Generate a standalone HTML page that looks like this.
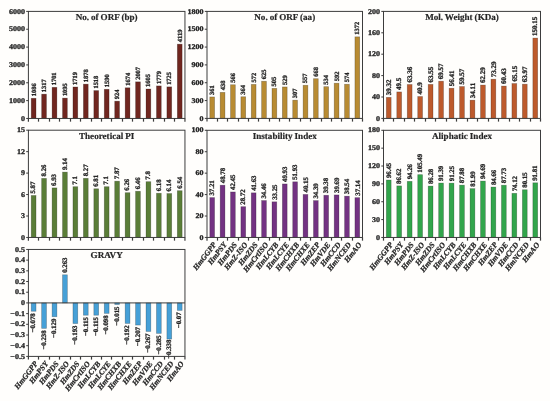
<!DOCTYPE html>
<html><head><meta charset="utf-8"><style>
html,body{margin:0;padding:0;background:#fffefc;}
svg{display:block;will-change:transform;filter:blur(0.3px);}
text{font-family:"Liberation Serif",serif;font-weight:bold;text-rendering:geometricPrecision;fill:#262626;}
.t{font-size:7.2px;text-anchor:end;stroke:#262626;stroke-width:0.3px;}
.v{font-size:6.8px;stroke:#262626;stroke-width:0.3px;}
.ti{font-size:9.1px;text-anchor:middle;word-spacing:-0.3px;stroke:#262626;stroke-width:0.18px;}
.c{font-size:7.8px;font-style:italic;text-anchor:end;stroke:#262626;stroke-width:0.25px;}
</style></head><body>
<svg width="550" height="401" viewBox="0 0 550 401">
<rect width="550" height="401" fill="#fffefc"/>
<rect x="31.22" y="98.27" width="4.80" height="20.18" fill="#70261f" stroke="rgba(0,0,0,0.3)" stroke-width="0.7"/>
<text class="v" style="font-size:6.45px" transform="translate(35.62,96.27) rotate(-90)">1086</text>
<rect x="41.65" y="94.15" width="4.80" height="24.30" fill="#70261f" stroke="rgba(0,0,0,0.3)" stroke-width="0.7"/>
<text class="v" style="font-size:6.45px" transform="translate(46.05,92.15) rotate(-90)">1317</text>
<rect x="52.09" y="87.30" width="4.80" height="31.15" fill="#70261f" stroke="rgba(0,0,0,0.3)" stroke-width="0.7"/>
<text class="v" style="font-size:6.45px" transform="translate(56.49,85.30) rotate(-90)">1701</text>
<rect x="62.53" y="98.11" width="4.80" height="20.34" fill="#70261f" stroke="rgba(0,0,0,0.3)" stroke-width="0.7"/>
<text class="v" style="font-size:6.45px" transform="translate(66.93,96.11) rotate(-90)">1095</text>
<rect x="72.96" y="86.98" width="4.80" height="31.47" fill="#70261f" stroke="rgba(0,0,0,0.3)" stroke-width="0.7"/>
<text class="v" style="font-size:6.45px" transform="translate(77.36,84.98) rotate(-90)">1719</text>
<rect x="83.40" y="84.14" width="4.80" height="34.31" fill="#70261f" stroke="rgba(0,0,0,0.3)" stroke-width="0.7"/>
<text class="v" style="font-size:6.45px" transform="translate(87.80,82.14) rotate(-90)">1878</text>
<rect x="93.84" y="90.57" width="4.80" height="27.88" fill="#70261f" stroke="rgba(0,0,0,0.3)" stroke-width="0.7"/>
<text class="v" style="font-size:6.45px" transform="translate(98.24,88.57) rotate(-90)">1518</text>
<rect x="104.27" y="89.28" width="4.80" height="29.17" fill="#70261f" stroke="rgba(0,0,0,0.3)" stroke-width="0.7"/>
<text class="v" style="font-size:6.45px" transform="translate(108.67,87.28) rotate(-90)">1590</text>
<rect x="114.71" y="101.16" width="4.80" height="17.29" fill="#70261f" stroke="rgba(0,0,0,0.3)" stroke-width="0.7"/>
<text class="v" style="font-size:6.45px" transform="translate(119.11,99.16) rotate(-90)">924</text>
<rect x="125.15" y="87.78" width="4.80" height="30.67" fill="#70261f" stroke="rgba(0,0,0,0.3)" stroke-width="0.7"/>
<text class="v" style="font-size:6.45px" transform="translate(129.55,85.78) rotate(-90)">1674</text>
<rect x="135.58" y="81.84" width="4.80" height="36.61" fill="#70261f" stroke="rgba(0,0,0,0.3)" stroke-width="0.7"/>
<text class="v" style="font-size:6.45px" transform="translate(139.98,79.84) rotate(-90)">2007</text>
<rect x="146.02" y="89.01" width="4.80" height="29.44" fill="#70261f" stroke="rgba(0,0,0,0.3)" stroke-width="0.7"/>
<text class="v" style="font-size:6.45px" transform="translate(150.42,87.01) rotate(-90)">1605</text>
<rect x="156.46" y="85.91" width="4.80" height="32.54" fill="#70261f" stroke="rgba(0,0,0,0.3)" stroke-width="0.7"/>
<text class="v" style="font-size:6.45px" transform="translate(160.86,83.91) rotate(-90)">1779</text>
<rect x="166.89" y="86.87" width="4.80" height="31.58" fill="#70261f" stroke="rgba(0,0,0,0.3)" stroke-width="0.7"/>
<text class="v" style="font-size:6.45px" transform="translate(171.29,84.87) rotate(-90)">1725</text>
<rect x="177.33" y="44.16" width="4.80" height="74.29" fill="#70261f" stroke="rgba(0,0,0,0.3)" stroke-width="0.7"/>
<text class="v" style="font-size:6.45px" transform="translate(181.73,42.16) rotate(-90)">4119</text>
<rect x="28.40" y="11.40" width="156.55" height="107.05" fill="none" stroke="#3c3c3c" stroke-width="1.0"/>
<line x1="26.20" y1="118.45" x2="28.40" y2="118.45" stroke="#3c3c3c" stroke-width="1.0"/>
<text class="t" transform="translate(25.00,120.55) scale(1.12,1)">0</text>
<line x1="26.20" y1="100.61" x2="28.40" y2="100.61" stroke="#3c3c3c" stroke-width="1.0"/>
<text class="t" transform="translate(25.00,102.71) scale(1.12,1)">1000</text>
<line x1="26.20" y1="82.77" x2="28.40" y2="82.77" stroke="#3c3c3c" stroke-width="1.0"/>
<text class="t" transform="translate(25.00,84.87) scale(1.12,1)">2000</text>
<line x1="26.20" y1="64.93" x2="28.40" y2="64.93" stroke="#3c3c3c" stroke-width="1.0"/>
<text class="t" transform="translate(25.00,67.03) scale(1.12,1)">3000</text>
<line x1="26.20" y1="47.08" x2="28.40" y2="47.08" stroke="#3c3c3c" stroke-width="1.0"/>
<text class="t" transform="translate(25.00,49.18) scale(1.12,1)">4000</text>
<line x1="26.20" y1="29.24" x2="28.40" y2="29.24" stroke="#3c3c3c" stroke-width="1.0"/>
<text class="t" transform="translate(25.00,31.34) scale(1.12,1)">5000</text>
<line x1="26.20" y1="11.40" x2="28.40" y2="11.40" stroke="#3c3c3c" stroke-width="1.0"/>
<text class="t" transform="translate(25.00,13.50) scale(1.12,1)">6000</text>
<line x1="28.40" y1="118.45" x2="28.40" y2="121.65" stroke="#3c3c3c" stroke-width="1.2"/>
<line x1="38.50" y1="118.45" x2="38.50" y2="121.65" stroke="#3c3c3c" stroke-width="1.2"/>
<line x1="49.50" y1="118.45" x2="49.50" y2="121.65" stroke="#3c3c3c" stroke-width="1.2"/>
<line x1="59.50" y1="118.45" x2="59.50" y2="121.65" stroke="#3c3c3c" stroke-width="1.2"/>
<line x1="70.50" y1="118.45" x2="70.50" y2="121.65" stroke="#3c3c3c" stroke-width="1.2"/>
<line x1="80.50" y1="118.45" x2="80.50" y2="121.65" stroke="#3c3c3c" stroke-width="1.2"/>
<line x1="91.50" y1="118.45" x2="91.50" y2="121.65" stroke="#3c3c3c" stroke-width="1.2"/>
<line x1="101.50" y1="118.45" x2="101.50" y2="121.65" stroke="#3c3c3c" stroke-width="1.2"/>
<line x1="111.50" y1="118.45" x2="111.50" y2="121.65" stroke="#3c3c3c" stroke-width="1.2"/>
<line x1="122.50" y1="118.45" x2="122.50" y2="121.65" stroke="#3c3c3c" stroke-width="1.2"/>
<line x1="132.50" y1="118.45" x2="132.50" y2="121.65" stroke="#3c3c3c" stroke-width="1.2"/>
<line x1="143.50" y1="118.45" x2="143.50" y2="121.65" stroke="#3c3c3c" stroke-width="1.2"/>
<line x1="153.50" y1="118.45" x2="153.50" y2="121.65" stroke="#3c3c3c" stroke-width="1.2"/>
<line x1="164.50" y1="118.45" x2="164.50" y2="121.65" stroke="#3c3c3c" stroke-width="1.2"/>
<line x1="174.50" y1="118.45" x2="174.50" y2="121.65" stroke="#3c3c3c" stroke-width="1.2"/>
<line x1="184.95" y1="118.45" x2="184.95" y2="121.65" stroke="#3c3c3c" stroke-width="1.2"/>
<text class="ti" x="106.67" y="20.25">No. of ORF (bp)</text>
<rect x="209.80" y="96.94" width="4.77" height="21.46" fill="#b88b32" stroke="rgba(0,0,0,0.3)" stroke-width="0.7"/>
<text class="v" style="font-size:6.5px" transform="translate(214.18,94.94) rotate(-90)">361</text>
<rect x="220.17" y="92.36" width="4.77" height="26.04" fill="#b88b32" stroke="rgba(0,0,0,0.3)" stroke-width="0.7"/>
<text class="v" style="font-size:6.5px" transform="translate(224.55,90.36) rotate(-90)">438</text>
<rect x="230.53" y="84.75" width="4.77" height="33.65" fill="#b88b32" stroke="rgba(0,0,0,0.3)" stroke-width="0.7"/>
<text class="v" style="font-size:6.5px" transform="translate(234.92,82.75) rotate(-90)">566</text>
<rect x="240.90" y="96.76" width="4.77" height="21.64" fill="#b88b32" stroke="rgba(0,0,0,0.3)" stroke-width="0.7"/>
<text class="v" style="font-size:6.5px" transform="translate(245.28,94.76) rotate(-90)">364</text>
<rect x="251.27" y="84.40" width="4.77" height="34.00" fill="#b88b32" stroke="rgba(0,0,0,0.3)" stroke-width="0.7"/>
<text class="v" style="font-size:6.5px" transform="translate(255.65,82.40) rotate(-90)">572</text>
<rect x="261.63" y="81.25" width="4.77" height="37.15" fill="#b88b32" stroke="rgba(0,0,0,0.3)" stroke-width="0.7"/>
<text class="v" style="font-size:6.5px" transform="translate(266.02,79.25) rotate(-90)">625</text>
<rect x="272.00" y="88.38" width="4.77" height="30.02" fill="#b88b32" stroke="rgba(0,0,0,0.3)" stroke-width="0.7"/>
<text class="v" style="font-size:6.5px" transform="translate(276.38,86.38) rotate(-90)">505</text>
<rect x="282.37" y="86.95" width="4.77" height="31.45" fill="#b88b32" stroke="rgba(0,0,0,0.3)" stroke-width="0.7"/>
<text class="v" style="font-size:6.5px" transform="translate(286.75,84.95) rotate(-90)">529</text>
<rect x="292.73" y="100.15" width="4.77" height="18.25" fill="#b88b32" stroke="rgba(0,0,0,0.3)" stroke-width="0.7"/>
<text class="v" style="font-size:6.5px" transform="translate(297.12,98.15) rotate(-90)">307</text>
<rect x="303.10" y="85.29" width="4.77" height="33.11" fill="#b88b32" stroke="rgba(0,0,0,0.3)" stroke-width="0.7"/>
<text class="v" style="font-size:6.5px" transform="translate(307.48,83.29) rotate(-90)">557</text>
<rect x="313.47" y="78.69" width="4.77" height="39.71" fill="#b88b32" stroke="rgba(0,0,0,0.3)" stroke-width="0.7"/>
<text class="v" style="font-size:6.5px" transform="translate(317.85,76.69) rotate(-90)">668</text>
<rect x="323.83" y="86.66" width="4.77" height="31.74" fill="#b88b32" stroke="rgba(0,0,0,0.3)" stroke-width="0.7"/>
<text class="v" style="font-size:6.5px" transform="translate(328.22,84.66) rotate(-90)">534</text>
<rect x="334.20" y="83.21" width="4.77" height="35.19" fill="#b88b32" stroke="rgba(0,0,0,0.3)" stroke-width="0.7"/>
<text class="v" style="font-size:6.5px" transform="translate(338.58,81.21) rotate(-90)">592</text>
<rect x="344.57" y="84.28" width="4.77" height="34.12" fill="#b88b32" stroke="rgba(0,0,0,0.3)" stroke-width="0.7"/>
<text class="v" style="font-size:6.5px" transform="translate(348.95,82.28) rotate(-90)">574</text>
<rect x="354.93" y="36.84" width="4.77" height="81.56" fill="#b88b32" stroke="rgba(0,0,0,0.3)" stroke-width="0.7"/>
<text class="v" style="font-size:6.5px" transform="translate(359.32,34.84) rotate(-90)">1372</text>
<rect x="207.00" y="11.40" width="155.50" height="107.00" fill="none" stroke="#3c3c3c" stroke-width="1.0"/>
<line x1="204.80" y1="118.40" x2="207.00" y2="118.40" stroke="#3c3c3c" stroke-width="1.0"/>
<text class="t" transform="translate(203.60,120.50) scale(1.12,1)">0</text>
<line x1="204.80" y1="100.57" x2="207.00" y2="100.57" stroke="#3c3c3c" stroke-width="1.0"/>
<text class="t" transform="translate(203.60,102.67) scale(1.12,1)">300</text>
<line x1="204.80" y1="82.73" x2="207.00" y2="82.73" stroke="#3c3c3c" stroke-width="1.0"/>
<text class="t" transform="translate(203.60,84.83) scale(1.12,1)">600</text>
<line x1="204.80" y1="64.90" x2="207.00" y2="64.90" stroke="#3c3c3c" stroke-width="1.0"/>
<text class="t" transform="translate(203.60,67.00) scale(1.12,1)">900</text>
<line x1="204.80" y1="47.07" x2="207.00" y2="47.07" stroke="#3c3c3c" stroke-width="1.0"/>
<text class="t" transform="translate(203.60,49.17) scale(1.12,1)">1200</text>
<line x1="204.80" y1="29.23" x2="207.00" y2="29.23" stroke="#3c3c3c" stroke-width="1.0"/>
<text class="t" transform="translate(203.60,31.33) scale(1.12,1)">1500</text>
<line x1="204.80" y1="11.40" x2="207.00" y2="11.40" stroke="#3c3c3c" stroke-width="1.0"/>
<text class="t" transform="translate(203.60,13.50) scale(1.12,1)">1800</text>
<line x1="207.00" y1="118.40" x2="207.00" y2="121.60" stroke="#3c3c3c" stroke-width="1.2"/>
<line x1="217.50" y1="118.40" x2="217.50" y2="121.60" stroke="#3c3c3c" stroke-width="1.2"/>
<line x1="227.50" y1="118.40" x2="227.50" y2="121.60" stroke="#3c3c3c" stroke-width="1.2"/>
<line x1="238.50" y1="118.40" x2="238.50" y2="121.60" stroke="#3c3c3c" stroke-width="1.2"/>
<line x1="248.50" y1="118.40" x2="248.50" y2="121.60" stroke="#3c3c3c" stroke-width="1.2"/>
<line x1="258.50" y1="118.40" x2="258.50" y2="121.60" stroke="#3c3c3c" stroke-width="1.2"/>
<line x1="269.50" y1="118.40" x2="269.50" y2="121.60" stroke="#3c3c3c" stroke-width="1.2"/>
<line x1="279.50" y1="118.40" x2="279.50" y2="121.60" stroke="#3c3c3c" stroke-width="1.2"/>
<line x1="289.50" y1="118.40" x2="289.50" y2="121.60" stroke="#3c3c3c" stroke-width="1.2"/>
<line x1="300.50" y1="118.40" x2="300.50" y2="121.60" stroke="#3c3c3c" stroke-width="1.2"/>
<line x1="310.50" y1="118.40" x2="310.50" y2="121.60" stroke="#3c3c3c" stroke-width="1.2"/>
<line x1="321.50" y1="118.40" x2="321.50" y2="121.60" stroke="#3c3c3c" stroke-width="1.2"/>
<line x1="331.50" y1="118.40" x2="331.50" y2="121.60" stroke="#3c3c3c" stroke-width="1.2"/>
<line x1="341.50" y1="118.40" x2="341.50" y2="121.60" stroke="#3c3c3c" stroke-width="1.2"/>
<line x1="352.50" y1="118.40" x2="352.50" y2="121.60" stroke="#3c3c3c" stroke-width="1.2"/>
<line x1="362.50" y1="118.40" x2="362.50" y2="121.60" stroke="#3c3c3c" stroke-width="1.2"/>
<text class="ti" x="284.75" y="20.25">No. of ORF (aa)</text>
<rect x="386.33" y="97.36" width="4.81" height="21.04" fill="#bd5a2c" stroke="rgba(0,0,0,0.3)" stroke-width="0.7"/>
<text class="v" style="font-size:7.0px" transform="translate(390.93,95.36) rotate(-90)">39.32</text>
<rect x="396.79" y="91.92" width="4.81" height="26.48" fill="#bd5a2c" stroke="rgba(0,0,0,0.3)" stroke-width="0.7"/>
<text class="v" style="font-size:7.0px" transform="translate(401.40,89.92) rotate(-90)">49.5</text>
<rect x="407.26" y="84.50" width="4.81" height="33.90" fill="#bd5a2c" stroke="rgba(0,0,0,0.3)" stroke-width="0.7"/>
<text class="v" style="font-size:7.0px" transform="translate(411.87,82.50) rotate(-90)">63.36</text>
<rect x="417.73" y="96.52" width="4.81" height="21.88" fill="#bd5a2c" stroke="rgba(0,0,0,0.3)" stroke-width="0.7"/>
<text class="v" style="font-size:7.0px" transform="translate(422.33,94.52) rotate(-90)">40.9</text>
<rect x="428.19" y="84.40" width="4.81" height="34.00" fill="#bd5a2c" stroke="rgba(0,0,0,0.3)" stroke-width="0.7"/>
<text class="v" style="font-size:7.0px" transform="translate(432.80,82.40) rotate(-90)">63.55</text>
<rect x="438.66" y="81.18" width="4.81" height="37.22" fill="#bd5a2c" stroke="rgba(0,0,0,0.3)" stroke-width="0.7"/>
<text class="v" style="font-size:7.0px" transform="translate(443.27,79.18) rotate(-90)">69.57</text>
<rect x="449.13" y="88.22" width="4.81" height="30.18" fill="#bd5a2c" stroke="rgba(0,0,0,0.3)" stroke-width="0.7"/>
<text class="v" style="font-size:7.0px" transform="translate(453.73,86.22) rotate(-90)">56.41</text>
<rect x="459.59" y="86.53" width="4.81" height="31.87" fill="#bd5a2c" stroke="rgba(0,0,0,0.3)" stroke-width="0.7"/>
<text class="v" style="font-size:7.0px" transform="translate(464.20,84.53) rotate(-90)">59.57</text>
<rect x="470.06" y="100.15" width="4.81" height="18.25" fill="#bd5a2c" stroke="rgba(0,0,0,0.3)" stroke-width="0.7"/>
<text class="v" style="font-size:7.0px" transform="translate(474.67,98.15) rotate(-90)">34.11</text>
<rect x="480.53" y="85.07" width="4.81" height="33.33" fill="#bd5a2c" stroke="rgba(0,0,0,0.3)" stroke-width="0.7"/>
<text class="v" style="font-size:7.0px" transform="translate(485.13,83.07) rotate(-90)">62.29</text>
<rect x="490.99" y="79.19" width="4.81" height="39.21" fill="#bd5a2c" stroke="rgba(0,0,0,0.3)" stroke-width="0.7"/>
<text class="v" style="font-size:7.0px" transform="translate(495.60,77.19) rotate(-90)">73.29</text>
<rect x="501.46" y="86.07" width="4.81" height="32.33" fill="#bd5a2c" stroke="rgba(0,0,0,0.3)" stroke-width="0.7"/>
<text class="v" style="font-size:7.0px" transform="translate(506.07,84.07) rotate(-90)">60.43</text>
<rect x="511.93" y="83.54" width="4.81" height="34.86" fill="#bd5a2c" stroke="rgba(0,0,0,0.3)" stroke-width="0.7"/>
<text class="v" style="font-size:7.0px" transform="translate(516.53,81.54) rotate(-90)">65.15</text>
<rect x="522.39" y="84.18" width="4.81" height="34.22" fill="#bd5a2c" stroke="rgba(0,0,0,0.3)" stroke-width="0.7"/>
<text class="v" style="font-size:7.0px" transform="translate(527.00,82.18) rotate(-90)">63.97</text>
<rect x="532.86" y="38.07" width="4.81" height="80.33" fill="#bd5a2c" stroke="rgba(0,0,0,0.3)" stroke-width="0.7"/>
<text class="v" style="font-size:7.0px" transform="translate(537.47,36.07) rotate(-90)">150.15</text>
<rect x="383.50" y="11.40" width="157.00" height="107.00" fill="none" stroke="#3c3c3c" stroke-width="1.0"/>
<line x1="381.30" y1="118.40" x2="383.50" y2="118.40" stroke="#3c3c3c" stroke-width="1.0"/>
<text class="t" transform="translate(380.10,120.50) scale(1.12,1)">0</text>
<line x1="381.30" y1="97.00" x2="383.50" y2="97.00" stroke="#3c3c3c" stroke-width="1.0"/>
<text class="t" transform="translate(380.10,99.10) scale(1.12,1)">40</text>
<line x1="381.30" y1="75.60" x2="383.50" y2="75.60" stroke="#3c3c3c" stroke-width="1.0"/>
<text class="t" transform="translate(380.10,77.70) scale(1.12,1)">80</text>
<line x1="381.30" y1="54.20" x2="383.50" y2="54.20" stroke="#3c3c3c" stroke-width="1.0"/>
<text class="t" transform="translate(380.10,56.30) scale(1.12,1)">120</text>
<line x1="381.30" y1="32.80" x2="383.50" y2="32.80" stroke="#3c3c3c" stroke-width="1.0"/>
<text class="t" transform="translate(380.10,34.90) scale(1.12,1)">160</text>
<line x1="381.30" y1="11.40" x2="383.50" y2="11.40" stroke="#3c3c3c" stroke-width="1.0"/>
<text class="t" transform="translate(380.10,13.50) scale(1.12,1)">200</text>
<line x1="383.50" y1="118.40" x2="383.50" y2="121.60" stroke="#3c3c3c" stroke-width="1.2"/>
<line x1="393.50" y1="118.40" x2="393.50" y2="121.60" stroke="#3c3c3c" stroke-width="1.2"/>
<line x1="404.50" y1="118.40" x2="404.50" y2="121.60" stroke="#3c3c3c" stroke-width="1.2"/>
<line x1="414.50" y1="118.40" x2="414.50" y2="121.60" stroke="#3c3c3c" stroke-width="1.2"/>
<line x1="425.50" y1="118.40" x2="425.50" y2="121.60" stroke="#3c3c3c" stroke-width="1.2"/>
<line x1="435.50" y1="118.40" x2="435.50" y2="121.60" stroke="#3c3c3c" stroke-width="1.2"/>
<line x1="446.50" y1="118.40" x2="446.50" y2="121.60" stroke="#3c3c3c" stroke-width="1.2"/>
<line x1="456.50" y1="118.40" x2="456.50" y2="121.60" stroke="#3c3c3c" stroke-width="1.2"/>
<line x1="467.50" y1="118.40" x2="467.50" y2="121.60" stroke="#3c3c3c" stroke-width="1.2"/>
<line x1="477.50" y1="118.40" x2="477.50" y2="121.60" stroke="#3c3c3c" stroke-width="1.2"/>
<line x1="488.50" y1="118.40" x2="488.50" y2="121.60" stroke="#3c3c3c" stroke-width="1.2"/>
<line x1="498.50" y1="118.40" x2="498.50" y2="121.60" stroke="#3c3c3c" stroke-width="1.2"/>
<line x1="509.50" y1="118.40" x2="509.50" y2="121.60" stroke="#3c3c3c" stroke-width="1.2"/>
<line x1="519.50" y1="118.40" x2="519.50" y2="121.60" stroke="#3c3c3c" stroke-width="1.2"/>
<line x1="530.50" y1="118.40" x2="530.50" y2="121.60" stroke="#3c3c3c" stroke-width="1.2"/>
<line x1="540.50" y1="118.40" x2="540.50" y2="121.60" stroke="#3c3c3c" stroke-width="1.2"/>
<text class="ti" x="462.00" y="20.25">Mol. Weight (KDa)</text>
<rect x="31.22" y="195.48" width="4.80" height="41.97" fill="#5a7d37" stroke="rgba(0,0,0,0.3)" stroke-width="0.7"/>
<text class="v" style="font-size:6.8px" transform="translate(35.42,193.48) rotate(-90)">5.87</text>
<rect x="41.65" y="178.39" width="4.80" height="59.06" fill="#5a7d37" stroke="rgba(0,0,0,0.3)" stroke-width="0.7"/>
<text class="v" style="font-size:6.8px" transform="translate(45.85,176.39) rotate(-90)">8.26</text>
<rect x="52.09" y="187.90" width="4.80" height="49.55" fill="#5a7d37" stroke="rgba(0,0,0,0.3)" stroke-width="0.7"/>
<text class="v" style="font-size:6.8px" transform="translate(56.29,185.90) rotate(-90)">6.93</text>
<rect x="62.53" y="172.10" width="4.80" height="65.35" fill="#5a7d37" stroke="rgba(0,0,0,0.3)" stroke-width="0.7"/>
<text class="v" style="font-size:6.8px" transform="translate(66.73,170.10) rotate(-90)">9.14</text>
<rect x="72.96" y="186.69" width="4.80" height="50.76" fill="#5a7d37" stroke="rgba(0,0,0,0.3)" stroke-width="0.7"/>
<text class="v" style="font-size:6.8px" transform="translate(77.16,184.69) rotate(-90)">7.1</text>
<rect x="83.40" y="178.32" width="4.80" height="59.13" fill="#5a7d37" stroke="rgba(0,0,0,0.3)" stroke-width="0.7"/>
<text class="v" style="font-size:6.8px" transform="translate(87.60,176.32) rotate(-90)">8.27</text>
<rect x="93.84" y="188.76" width="4.80" height="48.69" fill="#5a7d37" stroke="rgba(0,0,0,0.3)" stroke-width="0.7"/>
<text class="v" style="font-size:6.8px" transform="translate(98.04,186.76) rotate(-90)">6.81</text>
<rect x="104.27" y="186.69" width="4.80" height="50.76" fill="#5a7d37" stroke="rgba(0,0,0,0.3)" stroke-width="0.7"/>
<text class="v" style="font-size:6.8px" transform="translate(108.47,184.69) rotate(-90)">7.1</text>
<rect x="114.71" y="181.18" width="4.80" height="56.27" fill="#5a7d37" stroke="rgba(0,0,0,0.3)" stroke-width="0.7"/>
<text class="v" style="font-size:6.8px" transform="translate(118.91,179.18) rotate(-90)">7.87</text>
<rect x="125.15" y="192.69" width="4.80" height="44.76" fill="#5a7d37" stroke="rgba(0,0,0,0.3)" stroke-width="0.7"/>
<text class="v" style="font-size:6.8px" transform="translate(129.35,190.69) rotate(-90)">6.26</text>
<rect x="135.58" y="191.26" width="4.80" height="46.19" fill="#5a7d37" stroke="rgba(0,0,0,0.3)" stroke-width="0.7"/>
<text class="v" style="font-size:6.8px" transform="translate(139.78,189.26) rotate(-90)">6.46</text>
<rect x="146.02" y="181.68" width="4.80" height="55.77" fill="#5a7d37" stroke="rgba(0,0,0,0.3)" stroke-width="0.7"/>
<text class="v" style="font-size:6.8px" transform="translate(150.22,179.68) rotate(-90)">7.8</text>
<rect x="156.46" y="193.26" width="4.80" height="44.19" fill="#5a7d37" stroke="rgba(0,0,0,0.3)" stroke-width="0.7"/>
<text class="v" style="font-size:6.8px" transform="translate(160.66,191.26) rotate(-90)">6.18</text>
<rect x="166.89" y="193.55" width="4.80" height="43.90" fill="#5a7d37" stroke="rgba(0,0,0,0.3)" stroke-width="0.7"/>
<text class="v" style="font-size:6.8px" transform="translate(171.09,191.55) rotate(-90)">6.14</text>
<rect x="177.33" y="190.69" width="4.80" height="46.76" fill="#5a7d37" stroke="rgba(0,0,0,0.3)" stroke-width="0.7"/>
<text class="v" style="font-size:6.8px" transform="translate(181.53,188.69) rotate(-90)">6.54</text>
<rect x="28.40" y="130.20" width="156.55" height="107.25" fill="none" stroke="#3c3c3c" stroke-width="1.0"/>
<line x1="26.20" y1="237.45" x2="28.40" y2="237.45" stroke="#3c3c3c" stroke-width="1.0"/>
<text class="t" transform="translate(25.00,239.55) scale(1.12,1)">0</text>
<line x1="26.20" y1="216.00" x2="28.40" y2="216.00" stroke="#3c3c3c" stroke-width="1.0"/>
<text class="t" transform="translate(25.00,218.10) scale(1.12,1)">3</text>
<line x1="26.20" y1="194.55" x2="28.40" y2="194.55" stroke="#3c3c3c" stroke-width="1.0"/>
<text class="t" transform="translate(25.00,196.65) scale(1.12,1)">6</text>
<line x1="26.20" y1="173.10" x2="28.40" y2="173.10" stroke="#3c3c3c" stroke-width="1.0"/>
<text class="t" transform="translate(25.00,175.20) scale(1.12,1)">9</text>
<line x1="26.20" y1="151.65" x2="28.40" y2="151.65" stroke="#3c3c3c" stroke-width="1.0"/>
<text class="t" transform="translate(25.00,153.75) scale(1.12,1)">12</text>
<line x1="26.20" y1="130.20" x2="28.40" y2="130.20" stroke="#3c3c3c" stroke-width="1.0"/>
<text class="t" transform="translate(25.00,132.30) scale(1.12,1)">15</text>
<line x1="28.40" y1="237.45" x2="28.40" y2="240.65" stroke="#3c3c3c" stroke-width="1.2"/>
<line x1="38.50" y1="237.45" x2="38.50" y2="240.65" stroke="#3c3c3c" stroke-width="1.2"/>
<line x1="49.50" y1="237.45" x2="49.50" y2="240.65" stroke="#3c3c3c" stroke-width="1.2"/>
<line x1="59.50" y1="237.45" x2="59.50" y2="240.65" stroke="#3c3c3c" stroke-width="1.2"/>
<line x1="70.50" y1="237.45" x2="70.50" y2="240.65" stroke="#3c3c3c" stroke-width="1.2"/>
<line x1="80.50" y1="237.45" x2="80.50" y2="240.65" stroke="#3c3c3c" stroke-width="1.2"/>
<line x1="91.50" y1="237.45" x2="91.50" y2="240.65" stroke="#3c3c3c" stroke-width="1.2"/>
<line x1="101.50" y1="237.45" x2="101.50" y2="240.65" stroke="#3c3c3c" stroke-width="1.2"/>
<line x1="111.50" y1="237.45" x2="111.50" y2="240.65" stroke="#3c3c3c" stroke-width="1.2"/>
<line x1="122.50" y1="237.45" x2="122.50" y2="240.65" stroke="#3c3c3c" stroke-width="1.2"/>
<line x1="132.50" y1="237.45" x2="132.50" y2="240.65" stroke="#3c3c3c" stroke-width="1.2"/>
<line x1="143.50" y1="237.45" x2="143.50" y2="240.65" stroke="#3c3c3c" stroke-width="1.2"/>
<line x1="153.50" y1="237.45" x2="153.50" y2="240.65" stroke="#3c3c3c" stroke-width="1.2"/>
<line x1="164.50" y1="237.45" x2="164.50" y2="240.65" stroke="#3c3c3c" stroke-width="1.2"/>
<line x1="174.50" y1="237.45" x2="174.50" y2="240.65" stroke="#3c3c3c" stroke-width="1.2"/>
<line x1="184.95" y1="237.45" x2="184.95" y2="240.65" stroke="#3c3c3c" stroke-width="1.2"/>
<text class="ti" x="106.67" y="139.05">Theoretical PI</text>
<rect x="209.80" y="197.58" width="4.77" height="39.87" fill="#733282" stroke="rgba(0,0,0,0.3)" stroke-width="0.7"/>
<text class="v" style="font-size:6.8px" transform="translate(214.38,195.58) rotate(-90)">37.21</text>
<rect x="220.17" y="185.18" width="4.77" height="52.27" fill="#733282" stroke="rgba(0,0,0,0.3)" stroke-width="0.7"/>
<text class="v" style="font-size:6.8px" transform="translate(224.75,183.18) rotate(-90)">48.78</text>
<rect x="230.53" y="191.96" width="4.77" height="45.49" fill="#733282" stroke="rgba(0,0,0,0.3)" stroke-width="0.7"/>
<text class="v" style="font-size:6.8px" transform="translate(235.12,189.96) rotate(-90)">42.45</text>
<rect x="240.90" y="206.68" width="4.77" height="30.77" fill="#733282" stroke="rgba(0,0,0,0.3)" stroke-width="0.7"/>
<text class="v" style="font-size:6.8px" transform="translate(245.48,204.68) rotate(-90)">28.72</text>
<rect x="251.27" y="192.84" width="4.77" height="44.61" fill="#733282" stroke="rgba(0,0,0,0.3)" stroke-width="0.7"/>
<text class="v" style="font-size:6.8px" transform="translate(255.85,190.84) rotate(-90)">41.63</text>
<rect x="261.63" y="200.53" width="4.77" height="36.92" fill="#733282" stroke="rgba(0,0,0,0.3)" stroke-width="0.7"/>
<text class="v" style="font-size:6.8px" transform="translate(266.22,198.53) rotate(-90)">34.46</text>
<rect x="272.00" y="201.82" width="4.77" height="35.63" fill="#733282" stroke="rgba(0,0,0,0.3)" stroke-width="0.7"/>
<text class="v" style="font-size:6.8px" transform="translate(276.58,199.82) rotate(-90)">33.25</text>
<rect x="282.37" y="183.95" width="4.77" height="53.50" fill="#733282" stroke="rgba(0,0,0,0.3)" stroke-width="0.7"/>
<text class="v" style="font-size:6.8px" transform="translate(286.95,181.95) rotate(-90)">49.93</text>
<rect x="292.73" y="181.81" width="4.77" height="55.64" fill="#733282" stroke="rgba(0,0,0,0.3)" stroke-width="0.7"/>
<text class="v" style="font-size:6.8px" transform="translate(297.32,179.81) rotate(-90)">51.93</text>
<rect x="303.10" y="194.43" width="4.77" height="43.02" fill="#733282" stroke="rgba(0,0,0,0.3)" stroke-width="0.7"/>
<text class="v" style="font-size:6.8px" transform="translate(307.68,192.43) rotate(-90)">40.15</text>
<rect x="313.47" y="200.60" width="4.77" height="36.85" fill="#733282" stroke="rgba(0,0,0,0.3)" stroke-width="0.7"/>
<text class="v" style="font-size:6.8px" transform="translate(318.05,198.60) rotate(-90)">34.39</text>
<rect x="323.83" y="195.25" width="4.77" height="42.20" fill="#733282" stroke="rgba(0,0,0,0.3)" stroke-width="0.7"/>
<text class="v" style="font-size:6.8px" transform="translate(328.42,193.25) rotate(-90)">39.38</text>
<rect x="334.20" y="194.92" width="4.77" height="42.53" fill="#733282" stroke="rgba(0,0,0,0.3)" stroke-width="0.7"/>
<text class="v" style="font-size:6.8px" transform="translate(338.78,192.92) rotate(-90)">39.69</text>
<rect x="344.57" y="196.15" width="4.77" height="41.30" fill="#733282" stroke="rgba(0,0,0,0.3)" stroke-width="0.7"/>
<text class="v" style="font-size:6.8px" transform="translate(349.15,194.15) rotate(-90)">38.54</text>
<rect x="354.93" y="197.65" width="4.77" height="39.80" fill="#733282" stroke="rgba(0,0,0,0.3)" stroke-width="0.7"/>
<text class="v" style="font-size:6.8px" transform="translate(359.52,195.65) rotate(-90)">37.14</text>
<rect x="207.00" y="130.30" width="155.50" height="107.15" fill="none" stroke="#3c3c3c" stroke-width="1.0"/>
<line x1="204.80" y1="237.45" x2="207.00" y2="237.45" stroke="#3c3c3c" stroke-width="1.0"/>
<text class="t" transform="translate(203.60,239.55) scale(1.12,1)">0</text>
<line x1="204.80" y1="216.02" x2="207.00" y2="216.02" stroke="#3c3c3c" stroke-width="1.0"/>
<text class="t" transform="translate(203.60,218.12) scale(1.12,1)">20</text>
<line x1="204.80" y1="194.59" x2="207.00" y2="194.59" stroke="#3c3c3c" stroke-width="1.0"/>
<text class="t" transform="translate(203.60,196.69) scale(1.12,1)">40</text>
<line x1="204.80" y1="173.16" x2="207.00" y2="173.16" stroke="#3c3c3c" stroke-width="1.0"/>
<text class="t" transform="translate(203.60,175.26) scale(1.12,1)">60</text>
<line x1="204.80" y1="151.73" x2="207.00" y2="151.73" stroke="#3c3c3c" stroke-width="1.0"/>
<text class="t" transform="translate(203.60,153.83) scale(1.12,1)">80</text>
<line x1="204.80" y1="130.30" x2="207.00" y2="130.30" stroke="#3c3c3c" stroke-width="1.0"/>
<text class="t" transform="translate(203.60,132.40) scale(1.12,1)">100</text>
<line x1="207.00" y1="237.45" x2="207.00" y2="240.65" stroke="#3c3c3c" stroke-width="1.2"/>
<line x1="217.50" y1="237.45" x2="217.50" y2="240.65" stroke="#3c3c3c" stroke-width="1.2"/>
<line x1="227.50" y1="237.45" x2="227.50" y2="240.65" stroke="#3c3c3c" stroke-width="1.2"/>
<line x1="238.50" y1="237.45" x2="238.50" y2="240.65" stroke="#3c3c3c" stroke-width="1.2"/>
<line x1="248.50" y1="237.45" x2="248.50" y2="240.65" stroke="#3c3c3c" stroke-width="1.2"/>
<line x1="258.50" y1="237.45" x2="258.50" y2="240.65" stroke="#3c3c3c" stroke-width="1.2"/>
<line x1="269.50" y1="237.45" x2="269.50" y2="240.65" stroke="#3c3c3c" stroke-width="1.2"/>
<line x1="279.50" y1="237.45" x2="279.50" y2="240.65" stroke="#3c3c3c" stroke-width="1.2"/>
<line x1="289.50" y1="237.45" x2="289.50" y2="240.65" stroke="#3c3c3c" stroke-width="1.2"/>
<line x1="300.50" y1="237.45" x2="300.50" y2="240.65" stroke="#3c3c3c" stroke-width="1.2"/>
<line x1="310.50" y1="237.45" x2="310.50" y2="240.65" stroke="#3c3c3c" stroke-width="1.2"/>
<line x1="321.50" y1="237.45" x2="321.50" y2="240.65" stroke="#3c3c3c" stroke-width="1.2"/>
<line x1="331.50" y1="237.45" x2="331.50" y2="240.65" stroke="#3c3c3c" stroke-width="1.2"/>
<line x1="341.50" y1="237.45" x2="341.50" y2="240.65" stroke="#3c3c3c" stroke-width="1.2"/>
<line x1="352.50" y1="237.45" x2="352.50" y2="240.65" stroke="#3c3c3c" stroke-width="1.2"/>
<line x1="362.50" y1="237.45" x2="362.50" y2="240.65" stroke="#3c3c3c" stroke-width="1.2"/>
<text class="ti" x="284.75" y="139.15">Instability Index</text>
<text class="c" transform="translate(216.78,244.85) rotate(-52)">HmGGPP</text>
<text class="c" transform="translate(227.15,244.85) rotate(-52)">HmPSY</text>
<text class="c" transform="translate(237.52,244.85) rotate(-52)">HmPDS</text>
<text class="c" transform="translate(247.88,244.85) rotate(-52)">HmZ-ISO</text>
<text class="c" transform="translate(258.25,244.85) rotate(-52)">HmZDS</text>
<text class="c" transform="translate(268.62,244.85) rotate(-52)">HmCrtISO</text>
<text class="c" transform="translate(278.98,244.85) rotate(-52)">HmLCYB</text>
<text class="c" transform="translate(289.35,244.85) rotate(-52)">HmLCYE</text>
<text class="c" transform="translate(299.72,244.85) rotate(-52)">HmCHXB</text>
<text class="c" transform="translate(310.08,244.85) rotate(-52)">HmCHXE</text>
<text class="c" transform="translate(320.45,244.85) rotate(-52)">HmZEP</text>
<text class="c" transform="translate(330.82,244.85) rotate(-52)">HmVDE</text>
<text class="c" transform="translate(341.18,244.85) rotate(-52)">HmCCD</text>
<text class="c" transform="translate(351.55,244.85) rotate(-52)">HmNCED</text>
<text class="c" transform="translate(361.92,244.85) rotate(-52)">HmAO</text>
<rect x="386.33" y="180.04" width="4.81" height="57.41" fill="#32a54b" stroke="rgba(0,0,0,0.3)" stroke-width="0.7"/>
<text class="v" style="font-size:6.8px" transform="translate(390.93,178.04) rotate(-90)">96.45</text>
<rect x="396.79" y="185.89" width="4.81" height="51.56" fill="#32a54b" stroke="rgba(0,0,0,0.3)" stroke-width="0.7"/>
<text class="v" style="font-size:6.8px" transform="translate(401.40,183.89) rotate(-90)">86.62</text>
<rect x="407.26" y="181.34" width="4.81" height="56.11" fill="#32a54b" stroke="rgba(0,0,0,0.3)" stroke-width="0.7"/>
<text class="v" style="font-size:6.8px" transform="translate(411.87,179.34) rotate(-90)">94.26</text>
<rect x="417.73" y="174.65" width="4.81" height="62.80" fill="#32a54b" stroke="rgba(0,0,0,0.3)" stroke-width="0.7"/>
<text class="v" style="font-size:6.8px" transform="translate(422.33,172.65) rotate(-90)">105.49</text>
<rect x="428.19" y="186.09" width="4.81" height="51.36" fill="#32a54b" stroke="rgba(0,0,0,0.3)" stroke-width="0.7"/>
<text class="v" style="font-size:6.8px" transform="translate(432.80,184.09) rotate(-90)">86.28</text>
<rect x="438.66" y="183.05" width="4.81" height="54.40" fill="#32a54b" stroke="rgba(0,0,0,0.3)" stroke-width="0.7"/>
<text class="v" style="font-size:6.8px" transform="translate(443.27,181.05) rotate(-90)">91.39</text>
<rect x="449.13" y="183.13" width="4.81" height="54.32" fill="#32a54b" stroke="rgba(0,0,0,0.3)" stroke-width="0.7"/>
<text class="v" style="font-size:6.8px" transform="translate(453.73,181.13) rotate(-90)">91.25</text>
<rect x="459.59" y="185.14" width="4.81" height="52.31" fill="#32a54b" stroke="rgba(0,0,0,0.3)" stroke-width="0.7"/>
<text class="v" style="font-size:6.8px" transform="translate(464.20,183.14) rotate(-90)">87.88</text>
<rect x="470.06" y="188.64" width="4.81" height="48.81" fill="#32a54b" stroke="rgba(0,0,0,0.3)" stroke-width="0.7"/>
<text class="v" style="font-size:6.8px" transform="translate(474.67,186.64) rotate(-90)">81.99</text>
<rect x="480.53" y="181.08" width="4.81" height="56.37" fill="#32a54b" stroke="rgba(0,0,0,0.3)" stroke-width="0.7"/>
<text class="v" style="font-size:6.8px" transform="translate(485.13,179.08) rotate(-90)">94.69</text>
<rect x="490.99" y="187.05" width="4.81" height="50.40" fill="#32a54b" stroke="rgba(0,0,0,0.3)" stroke-width="0.7"/>
<text class="v" style="font-size:6.8px" transform="translate(495.60,185.05) rotate(-90)">84.66</text>
<rect x="501.46" y="185.23" width="4.81" height="52.22" fill="#32a54b" stroke="rgba(0,0,0,0.3)" stroke-width="0.7"/>
<text class="v" style="font-size:6.8px" transform="translate(506.07,183.23) rotate(-90)">87.73</text>
<rect x="511.93" y="193.33" width="4.81" height="44.12" fill="#32a54b" stroke="rgba(0,0,0,0.3)" stroke-width="0.7"/>
<text class="v" style="font-size:6.8px" transform="translate(516.53,191.33) rotate(-90)">74.12</text>
<rect x="522.39" y="189.74" width="4.81" height="47.71" fill="#32a54b" stroke="rgba(0,0,0,0.3)" stroke-width="0.7"/>
<text class="v" style="font-size:6.8px" transform="translate(527.00,187.74) rotate(-90)">80.15</text>
<rect x="532.86" y="182.80" width="4.81" height="54.65" fill="#32a54b" stroke="rgba(0,0,0,0.3)" stroke-width="0.7"/>
<text class="v" style="font-size:6.8px" transform="translate(537.47,180.80) rotate(-90)">91.81</text>
<rect x="383.50" y="130.30" width="157.00" height="107.15" fill="none" stroke="#3c3c3c" stroke-width="1.0"/>
<line x1="381.30" y1="237.45" x2="383.50" y2="237.45" stroke="#3c3c3c" stroke-width="1.0"/>
<text class="t" transform="translate(380.10,239.55) scale(1.12,1)">0</text>
<line x1="381.30" y1="219.59" x2="383.50" y2="219.59" stroke="#3c3c3c" stroke-width="1.0"/>
<text class="t" transform="translate(380.10,221.69) scale(1.12,1)">30</text>
<line x1="381.30" y1="201.73" x2="383.50" y2="201.73" stroke="#3c3c3c" stroke-width="1.0"/>
<text class="t" transform="translate(380.10,203.83) scale(1.12,1)">60</text>
<line x1="381.30" y1="183.88" x2="383.50" y2="183.88" stroke="#3c3c3c" stroke-width="1.0"/>
<text class="t" transform="translate(380.10,185.97) scale(1.12,1)">90</text>
<line x1="381.30" y1="166.02" x2="383.50" y2="166.02" stroke="#3c3c3c" stroke-width="1.0"/>
<text class="t" transform="translate(380.10,168.12) scale(1.12,1)">120</text>
<line x1="381.30" y1="148.16" x2="383.50" y2="148.16" stroke="#3c3c3c" stroke-width="1.0"/>
<text class="t" transform="translate(380.10,150.26) scale(1.12,1)">150</text>
<line x1="381.30" y1="130.30" x2="383.50" y2="130.30" stroke="#3c3c3c" stroke-width="1.0"/>
<text class="t" transform="translate(380.10,132.40) scale(1.12,1)">180</text>
<line x1="383.50" y1="237.45" x2="383.50" y2="240.65" stroke="#3c3c3c" stroke-width="1.2"/>
<line x1="393.50" y1="237.45" x2="393.50" y2="240.65" stroke="#3c3c3c" stroke-width="1.2"/>
<line x1="404.50" y1="237.45" x2="404.50" y2="240.65" stroke="#3c3c3c" stroke-width="1.2"/>
<line x1="414.50" y1="237.45" x2="414.50" y2="240.65" stroke="#3c3c3c" stroke-width="1.2"/>
<line x1="425.50" y1="237.45" x2="425.50" y2="240.65" stroke="#3c3c3c" stroke-width="1.2"/>
<line x1="435.50" y1="237.45" x2="435.50" y2="240.65" stroke="#3c3c3c" stroke-width="1.2"/>
<line x1="446.50" y1="237.45" x2="446.50" y2="240.65" stroke="#3c3c3c" stroke-width="1.2"/>
<line x1="456.50" y1="237.45" x2="456.50" y2="240.65" stroke="#3c3c3c" stroke-width="1.2"/>
<line x1="467.50" y1="237.45" x2="467.50" y2="240.65" stroke="#3c3c3c" stroke-width="1.2"/>
<line x1="477.50" y1="237.45" x2="477.50" y2="240.65" stroke="#3c3c3c" stroke-width="1.2"/>
<line x1="488.50" y1="237.45" x2="488.50" y2="240.65" stroke="#3c3c3c" stroke-width="1.2"/>
<line x1="498.50" y1="237.45" x2="498.50" y2="240.65" stroke="#3c3c3c" stroke-width="1.2"/>
<line x1="509.50" y1="237.45" x2="509.50" y2="240.65" stroke="#3c3c3c" stroke-width="1.2"/>
<line x1="519.50" y1="237.45" x2="519.50" y2="240.65" stroke="#3c3c3c" stroke-width="1.2"/>
<line x1="530.50" y1="237.45" x2="530.50" y2="240.65" stroke="#3c3c3c" stroke-width="1.2"/>
<line x1="540.50" y1="237.45" x2="540.50" y2="240.65" stroke="#3c3c3c" stroke-width="1.2"/>
<text class="ti" x="462.00" y="139.15">Aliphatic Index</text>
<text class="c" transform="translate(393.33,244.85) rotate(-52)">HmGGPP</text>
<text class="c" transform="translate(403.80,244.85) rotate(-52)">HmPSY</text>
<text class="c" transform="translate(414.27,244.85) rotate(-52)">HmPDS</text>
<text class="c" transform="translate(424.73,244.85) rotate(-52)">HmZ-ISO</text>
<text class="c" transform="translate(435.20,244.85) rotate(-52)">HmZDS</text>
<text class="c" transform="translate(445.67,244.85) rotate(-52)">HmCrtISO</text>
<text class="c" transform="translate(456.13,244.85) rotate(-52)">HmLCYB</text>
<text class="c" transform="translate(466.60,244.85) rotate(-52)">HmLCYE</text>
<text class="c" transform="translate(477.07,244.85) rotate(-52)">HmCHXB</text>
<text class="c" transform="translate(487.53,244.85) rotate(-52)">HmCHXE</text>
<text class="c" transform="translate(498.00,244.85) rotate(-52)">HmZEP</text>
<text class="c" transform="translate(508.47,244.85) rotate(-52)">HmVDE</text>
<text class="c" transform="translate(518.93,244.85) rotate(-52)">HmCCD</text>
<text class="c" transform="translate(529.40,244.85) rotate(-52)">HmNCED</text>
<text class="c" transform="translate(539.87,244.85) rotate(-52)">HmAO</text>
<rect x="31.22" y="302.92" width="4.80" height="8.34" fill="#46a0d7" stroke="rgba(0,0,0,0.3)" stroke-width="0.7"/>
<text class="v" text-anchor="end" style="font-size:6.8px" transform="translate(35.32,313.27) rotate(-90)">−0.078</text>
<rect x="41.65" y="302.92" width="4.80" height="25.45" fill="#46a0d7" stroke="rgba(0,0,0,0.3)" stroke-width="0.7"/>
<text class="v" text-anchor="end" style="font-size:6.8px" transform="translate(45.75,330.38) rotate(-90)">−0.238</text>
<rect x="52.09" y="302.92" width="4.80" height="13.80" fill="#46a0d7" stroke="rgba(0,0,0,0.3)" stroke-width="0.7"/>
<text class="v" text-anchor="end" style="font-size:6.8px" transform="translate(56.19,318.72) rotate(-90)">−0.129</text>
<rect x="62.53" y="274.80" width="4.80" height="28.13" fill="#46a0d7" stroke="rgba(0,0,0,0.3)" stroke-width="0.7"/>
<text class="v" style="font-size:6.8px" transform="translate(66.63,272.80) rotate(-90)">0.263</text>
<rect x="72.96" y="302.92" width="4.80" height="20.64" fill="#46a0d7" stroke="rgba(0,0,0,0.3)" stroke-width="0.7"/>
<text class="v" text-anchor="end" style="font-size:6.8px" transform="translate(77.06,325.57) rotate(-90)">−0.193</text>
<rect x="83.40" y="302.92" width="4.80" height="12.30" fill="#46a0d7" stroke="rgba(0,0,0,0.3)" stroke-width="0.7"/>
<text class="v" text-anchor="end" style="font-size:6.8px" transform="translate(87.50,317.22) rotate(-90)">−0.115</text>
<rect x="93.84" y="302.92" width="4.80" height="12.30" fill="#46a0d7" stroke="rgba(0,0,0,0.3)" stroke-width="0.7"/>
<text class="v" text-anchor="end" style="font-size:6.8px" transform="translate(97.94,317.22) rotate(-90)">−0.115</text>
<rect x="104.27" y="302.92" width="4.80" height="10.48" fill="#46a0d7" stroke="rgba(0,0,0,0.3)" stroke-width="0.7"/>
<text class="v" text-anchor="end" style="font-size:6.8px" transform="translate(108.37,315.41) rotate(-90)">−0.098</text>
<rect x="114.71" y="302.92" width="4.80" height="1.60" fill="#46a0d7" stroke="rgba(0,0,0,0.3)" stroke-width="0.7"/>
<text class="v" text-anchor="end" style="font-size:6.8px" transform="translate(118.81,306.53) rotate(-90)">−0.015</text>
<rect x="125.15" y="302.92" width="4.80" height="20.53" fill="#46a0d7" stroke="rgba(0,0,0,0.3)" stroke-width="0.7"/>
<text class="v" text-anchor="end" style="font-size:6.8px" transform="translate(129.25,325.46) rotate(-90)">−0.192</text>
<rect x="135.58" y="302.92" width="4.80" height="22.14" fill="#46a0d7" stroke="rgba(0,0,0,0.3)" stroke-width="0.7"/>
<text class="v" text-anchor="end" style="font-size:6.8px" transform="translate(139.68,327.06) rotate(-90)">−0.207</text>
<rect x="146.02" y="302.92" width="4.80" height="28.56" fill="#46a0d7" stroke="rgba(0,0,0,0.3)" stroke-width="0.7"/>
<text class="v" text-anchor="end" style="font-size:6.8px" transform="translate(150.12,333.48) rotate(-90)">−0.267</text>
<rect x="156.46" y="302.92" width="4.80" height="30.48" fill="#46a0d7" stroke="rgba(0,0,0,0.3)" stroke-width="0.7"/>
<text class="v" text-anchor="end" style="font-size:6.8px" transform="translate(160.56,335.41) rotate(-90)">−0.285</text>
<rect x="166.89" y="302.92" width="4.80" height="36.15" fill="#46a0d7" stroke="rgba(0,0,0,0.3)" stroke-width="0.7"/>
<text class="v" text-anchor="end" style="font-size:6.8px" transform="translate(170.99,339.67) rotate(-90)">−0.338</text>
<rect x="177.33" y="302.92" width="4.80" height="7.49" fill="#46a0d7" stroke="rgba(0,0,0,0.3)" stroke-width="0.7"/>
<text class="v" text-anchor="end" style="font-size:6.8px" transform="translate(181.43,312.41) rotate(-90)">−0.07</text>
<rect x="28.40" y="249.45" width="156.55" height="106.95" fill="none" stroke="#3c3c3c" stroke-width="1.0"/>
<line x1="28.40" y1="302.92" x2="184.95" y2="302.92" stroke="#3c3c3c" stroke-width="1.0"/>
<line x1="26.20" y1="356.40" x2="28.40" y2="356.40" stroke="#3c3c3c" stroke-width="1.0"/>
<text class="t" transform="translate(25.00,358.50) scale(1.12,1)">−0.5</text>
<line x1="26.20" y1="345.70" x2="28.40" y2="345.70" stroke="#3c3c3c" stroke-width="1.0"/>
<text class="t" transform="translate(25.00,347.81) scale(1.12,1)">−0.4</text>
<line x1="26.20" y1="335.01" x2="28.40" y2="335.01" stroke="#3c3c3c" stroke-width="1.0"/>
<text class="t" transform="translate(25.00,337.11) scale(1.12,1)">−0.3</text>
<line x1="26.20" y1="324.31" x2="28.40" y2="324.31" stroke="#3c3c3c" stroke-width="1.0"/>
<text class="t" transform="translate(25.00,326.42) scale(1.12,1)">−0.2</text>
<line x1="26.20" y1="313.62" x2="28.40" y2="313.62" stroke="#3c3c3c" stroke-width="1.0"/>
<text class="t" transform="translate(25.00,315.72) scale(1.12,1)">−0.1</text>
<line x1="26.20" y1="302.92" x2="28.40" y2="302.92" stroke="#3c3c3c" stroke-width="1.0"/>
<text class="t" transform="translate(25.00,305.02) scale(1.12,1)">0</text>
<line x1="26.20" y1="292.23" x2="28.40" y2="292.23" stroke="#3c3c3c" stroke-width="1.0"/>
<text class="t" transform="translate(25.00,294.33) scale(1.12,1)">0.1</text>
<line x1="26.20" y1="281.53" x2="28.40" y2="281.53" stroke="#3c3c3c" stroke-width="1.0"/>
<text class="t" transform="translate(25.00,283.63) scale(1.12,1)">0.2</text>
<line x1="26.20" y1="270.84" x2="28.40" y2="270.84" stroke="#3c3c3c" stroke-width="1.0"/>
<text class="t" transform="translate(25.00,272.94) scale(1.12,1)">0.3</text>
<line x1="26.20" y1="260.14" x2="28.40" y2="260.14" stroke="#3c3c3c" stroke-width="1.0"/>
<text class="t" transform="translate(25.00,262.25) scale(1.12,1)">0.4</text>
<line x1="26.20" y1="249.45" x2="28.40" y2="249.45" stroke="#3c3c3c" stroke-width="1.0"/>
<text class="t" transform="translate(25.00,251.55) scale(1.12,1)">0.5</text>
<line x1="28.40" y1="356.40" x2="28.40" y2="359.60" stroke="#3c3c3c" stroke-width="1.2"/>
<line x1="38.50" y1="356.40" x2="38.50" y2="359.60" stroke="#3c3c3c" stroke-width="1.2"/>
<line x1="49.50" y1="356.40" x2="49.50" y2="359.60" stroke="#3c3c3c" stroke-width="1.2"/>
<line x1="59.50" y1="356.40" x2="59.50" y2="359.60" stroke="#3c3c3c" stroke-width="1.2"/>
<line x1="70.50" y1="356.40" x2="70.50" y2="359.60" stroke="#3c3c3c" stroke-width="1.2"/>
<line x1="80.50" y1="356.40" x2="80.50" y2="359.60" stroke="#3c3c3c" stroke-width="1.2"/>
<line x1="91.50" y1="356.40" x2="91.50" y2="359.60" stroke="#3c3c3c" stroke-width="1.2"/>
<line x1="101.50" y1="356.40" x2="101.50" y2="359.60" stroke="#3c3c3c" stroke-width="1.2"/>
<line x1="111.50" y1="356.40" x2="111.50" y2="359.60" stroke="#3c3c3c" stroke-width="1.2"/>
<line x1="122.50" y1="356.40" x2="122.50" y2="359.60" stroke="#3c3c3c" stroke-width="1.2"/>
<line x1="132.50" y1="356.40" x2="132.50" y2="359.60" stroke="#3c3c3c" stroke-width="1.2"/>
<line x1="143.50" y1="356.40" x2="143.50" y2="359.60" stroke="#3c3c3c" stroke-width="1.2"/>
<line x1="153.50" y1="356.40" x2="153.50" y2="359.60" stroke="#3c3c3c" stroke-width="1.2"/>
<line x1="164.50" y1="356.40" x2="164.50" y2="359.60" stroke="#3c3c3c" stroke-width="1.2"/>
<line x1="174.50" y1="356.40" x2="174.50" y2="359.60" stroke="#3c3c3c" stroke-width="1.2"/>
<line x1="184.95" y1="356.40" x2="184.95" y2="359.60" stroke="#3c3c3c" stroke-width="1.2"/>
<text class="ti" x="106.67" y="258.30">GRAVY</text>
<text class="c" transform="translate(38.22,363.80) rotate(-52)">HmGGPP</text>
<text class="c" transform="translate(48.65,363.80) rotate(-52)">HmPSY</text>
<text class="c" transform="translate(59.09,363.80) rotate(-52)">HmPDS</text>
<text class="c" transform="translate(69.53,363.80) rotate(-52)">HmZ-ISO</text>
<text class="c" transform="translate(79.96,363.80) rotate(-52)">HmZDS</text>
<text class="c" transform="translate(90.40,363.80) rotate(-52)">HmCrtISO</text>
<text class="c" transform="translate(100.84,363.80) rotate(-52)">HmLCYB</text>
<text class="c" transform="translate(111.27,363.80) rotate(-52)">HmLCYE</text>
<text class="c" transform="translate(121.71,363.80) rotate(-52)">HmCHXB</text>
<text class="c" transform="translate(132.15,363.80) rotate(-52)">HmCHXE</text>
<text class="c" transform="translate(142.58,363.80) rotate(-52)">HmZEP</text>
<text class="c" transform="translate(153.02,363.80) rotate(-52)">HmVDE</text>
<text class="c" transform="translate(163.46,363.80) rotate(-52)">HmCCD</text>
<text class="c" transform="translate(173.89,363.80) rotate(-52)">HmNCED</text>
<text class="c" transform="translate(184.33,363.80) rotate(-52)">HmAO</text>
</svg>
</body></html>
